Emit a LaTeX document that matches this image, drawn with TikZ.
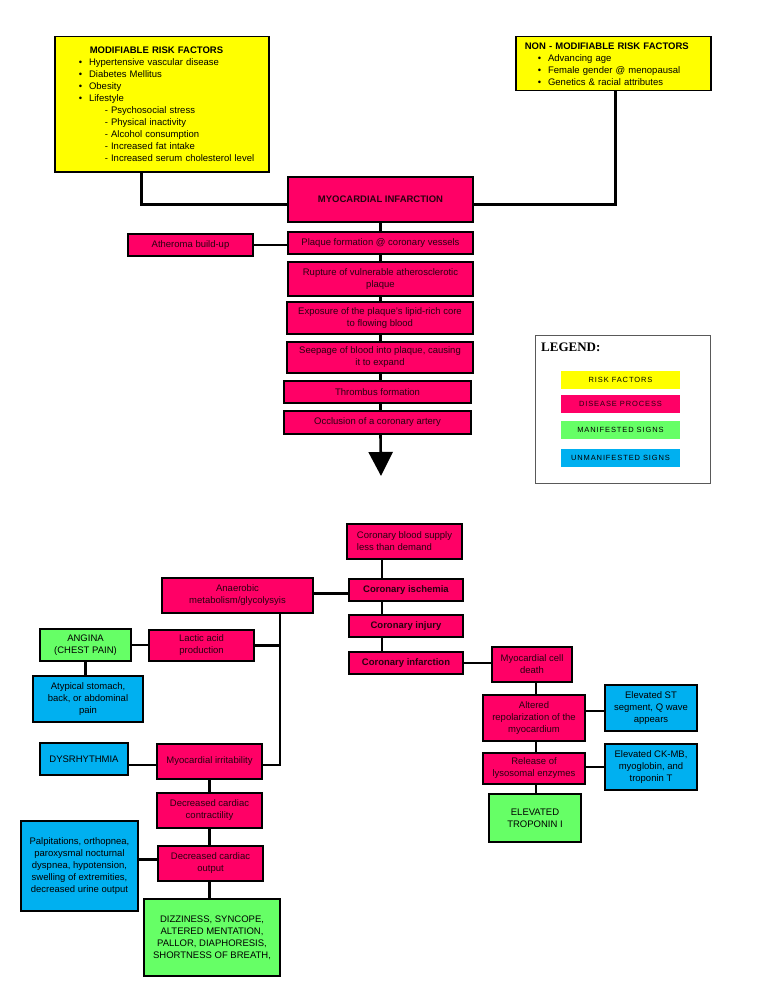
\documentclass[tikz,border=0pt]{standalone}
\usepackage{fontspec}
\setmainfont{Liberation Sans}
\newfontfamily\legendfont{Liberation Serif}
\newfontfamily\spacedfont[LetterSpace=12]{Liberation Sans}
\usepackage{tikz}
\usetikzlibrary{arrows.meta}
\definecolor{riskyellow}{RGB}{255,255,0}
\definecolor{diseasepink}{RGB}{255,0,102}
\definecolor{diseasetext}{RGB}{40,0,15}
\definecolor{signgreen}{RGB}{102,255,102}
\definecolor{signblue}{RGB}{0,176,240}
\newcommand\bul{\hspace*{24pt}\textbullet\hspace{7pt}}
\newcommand\dsh{\hspace*{50pt}- }
\tikzset{
  box/.style={draw, line width=1.5pt, inner sep=2pt, align=center,
    font=\fontsize{9.5}{12}\selectfont},
  sz/.style 2 args={minimum width=#1pt, minimum height=#2pt},
  risk/.style={box, fill=riskyellow},
  disease/.style={box, fill=diseasepink, text=diseasetext},
  manif/.style={box, fill=signgreen},
  unmanif/.style={box, fill=signblue},
  legbar/.style={fill=#1, inner sep=0pt, minimum width=119pt, minimum height=18pt,
    font=\spacedfont\fontsize{7.5}{9}\selectfont},
  link/.style={line width=2.6pt}
}
\begin{document}
\begin{tikzpicture}[x=1pt,y=-1pt]
\useasboundingbox (0,0) rectangle (768,1006);

% risk factors
\node[risk, anchor=north west, sz={214}{135}, text width=214pt, inner xsep=0pt, align=left] (modrisk) at (54,36)
  {\hspace*{35pt}\textbf{MODIFIABLE RISK FACTORS}\\
   \bul Hypertensive vascular disease\\
   \bul Diabetes Mellitus\\
   \bul Obesity\\
   \bul Lifestyle\\
   \dsh Psychosocial stress\\
   \dsh Physical inactivity\\
   \dsh Alcohol consumption\\
   \dsh Increased fat intake\\
   \dsh Increased serum cholesterol level};

\node[risk, anchor=north west, sz={195}{54}, text width=195pt, inner xsep=0pt, align=left] (nonmod) at (515,36)
  {\hspace*{9pt}\textbf{NON - MODIFIABLE RISK FACTORS}\\
   \hspace*{22pt}\textbullet\hspace{7pt}Advancing age\\
   \hspace*{22pt}\textbullet\hspace{7pt}Female gender @ menopausal\\
   \hspace*{22pt}\textbullet\hspace{7pt}Genetics \& racial attributes};

% disease process
\node[disease, sz={185}{45}, font=\bfseries\fontsize{9.5}{12}\selectfont] (mi) at (380.5,199.5) {MYOCARDIAL INFARCTION};
\node[disease, sz={185}{22}] (plaque) at (380.5,243) {Plaque formation @ coronary vessels};
\node[disease, sz={125}{22}] (ath) at (190.5,245) {Atheroma build-up};
\node[disease, sz={185}{34}] (rupt) at (380.5,279) {Rupture of vulnerable atherosclerotic\\plaque};
\node[disease, sz={186}{32}] (expo) at (380,318) {Exposure of the plaque's lipid-rich core\\to flowing blood};
\node[disease, sz={186}{31}] (seep) at (380,357.5) {Seepage of blood into plaque, causing\\it to expand};
\node[disease, sz={187}{22}] (thromb) at (377.5,392) {Thrombus formation};
\node[disease, sz={187}{23}] (occl) at (377.5,422.5) {Occlusion of a coronary artery};
\coordinate (tip) at (381,476);

\draw[link] ([xshift=-20pt]modrisk.south) |- ([yshift=-5pt]mi.west);
\draw[link] ([xshift=2.5pt]nonmod.south) |- ([yshift=-5pt]mi.east);
\draw[link] (ath.east) -- (ath.east -| plaque.west);
\draw[link] (mi.south) -- (plaque.north);
\draw[link] (plaque.south) -- (rupt.north);
\draw[link] (rupt.south) -- (rupt.south |- expo.north);
\draw[link] (rupt.south |- expo.south) -- (rupt.south |- seep.north);
\draw[link] (rupt.south |- seep.south) -- (rupt.south |- thromb.north);
\draw[link] (rupt.south |- thromb.south) -- (rupt.south |- occl.north);
\draw[link, -{Triangle[width=24pt,length=24pt]}] (rupt.south |- occl.south) -- (tip);

% legend
\node[draw=black!65, line width=1.2pt, anchor=north west, minimum width=175pt, minimum height=148pt] (legend) at (535,335) {};
\node[anchor=west, inner sep=0pt, font=\legendfont\bfseries\fontsize{13}{15}\selectfont] (legtitle) at (541,347) {LEGEND:};
\node[legbar=riskyellow] (legrisk) at (620.5,380) {RISK FACTORS};
\node[legbar=diseasepink, text=diseasetext] (legdisease) at (620.5,404) {DISEASE PROCESS};
\node[legbar=signgreen] (legmanif) at (620.5,430) {MANIFESTED SIGNS};
\node[legbar=signblue] (legunmanif) at (620.5,458) {UNMANIFESTED SIGNS};

% coronary events
\node[disease, sz={115}{35}, align=left] (supply) at (404.5,541.5) {Coronary blood supply\\less than demand};
\node[disease, sz={114}{22}, font=\bfseries\fontsize{9.5}{12}\selectfont] (isch) at (406,590) {Coronary ischemia};
\node[disease, sz={114}{22}, font=\bfseries\fontsize{9.5}{12}\selectfont] (injury) at (406,626) {Coronary injury};
\node[disease, sz={114}{22}, font=\bfseries\fontsize{9.5}{12}\selectfont] (infarct) at (406,663) {Coronary infarction};
\coordinate (spine) at (382,0);

\node[disease, sz={151}{35}] (anaer) at (237.5,595.5) {Anaerobic\\metabolism/glycolysyis};
\node[disease, sz={105}{31}] (lactic) at (201.5,645.5) {Lactic acid\\production};
\node[manif, sz={91}{32}] (angina) at (85.5,645) {ANGINA\\(CHEST PAIN)};
\node[unmanif, sz={110}{46}] (atyp) at (88,699) {Atypical stomach,\\back, or abdominal\\pain};
\node[unmanif, sz={88}{32}] (dys) at (84,759) {DYSRHYTHMIA};
\node[disease, sz={105}{35}] (irrit) at (209.5,761.5) {Myocardial irritability};
\node[disease, sz={105}{35}] (contr) at (209.5,810.5) {Decreased cardiac\\contractility};
\node[disease, sz={105}{35}] (output) at (210.5,863.5) {Decreased cardiac\\output};
\node[unmanif, sz={117}{90}] (palp) at (79.5,866) {Palpitations, orthopnea,\\paroxysmal nocturnal\\dyspnea, hypotension,\\swelling of extremities,\\decreased urine output};
\node[manif, sz={136}{77}] (dizzy) at (212,937.5) {DIZZINESS, SYNCOPE,\\ALTERED MENTATION,\\PALLOR, DIAPHORESIS,\\SHORTNESS OF BREATH,};
\coordinate (trunk) at (280,765);

\node[disease, sz={80}{35}] (death) at (532,664.5) {Myocardial cell\\death};
\node[disease, sz={102}{46}] (repol) at (534,718) {Altered\\repolarization of the\\myocardium};
\node[disease, sz={102}{31}] (release) at (534,768.5) {Release of\\lysosomal enzymes};
\node[manif, sz={92}{48}] (tropi) at (535,818) {ELEVATED\\TROPONIN I};
\node[unmanif, sz={92}{46}] (st) at (651,708) {Elevated ST\\segment, Q wave\\appears};
\node[unmanif, sz={92}{46}] (ckmb) at (651,767) {Elevated CK-MB,\\myoglobin, and\\troponin T};
\coordinate (rspine) at (536,0);

\draw[link] (supply.south -| spine) -- (isch.north -| spine);
\draw[link] (isch.south -| spine) -- (injury.north -| spine);
\draw[link] (injury.south -| spine) -- (infarct.north -| spine);
\draw[link] ([yshift=2pt]anaer.east) -- ([yshift=2pt]anaer.east -| isch.west);
\draw[link] (anaer.south -| trunk) -- (trunk) -- (trunk -| irrit.east);
\draw[link] (lactic.east) -- (lactic.east -| trunk);
\draw[link] (angina.east) -- (angina.east -| lactic.west);
\draw[link] (angina.south) -- (angina.south |- atyp.north);
\draw[link] (dys.east |- trunk) -- (irrit.west |- trunk);
\draw[link] (irrit.south) -- (irrit.south |- contr.north);
\draw[link] (irrit.south |- contr.south) -- (irrit.south |- output.north);
\draw[link] (irrit.south |- output.south) -- (irrit.south |- dizzy.north);
\draw[link] ([yshift=4pt]output.west) -- ([yshift=4pt]output.west -| palp.east);
\draw[link] (infarct.east) -- (infarct.east -| death.west);
\draw[link] (death.south -| rspine) -- (repol.north -| rspine);
\draw[link] (repol.south -| rspine) -- (release.north -| rspine);
\draw[link] (release.south -| rspine) -- (tropi.north -| rspine);
\draw[link] ([yshift=-3pt]st.west) -- ([yshift=-3pt]st.west -| repol.east);
\draw[link] (ckmb.west) -- (ckmb.west -| release.east);
\end{tikzpicture}
\end{document}
